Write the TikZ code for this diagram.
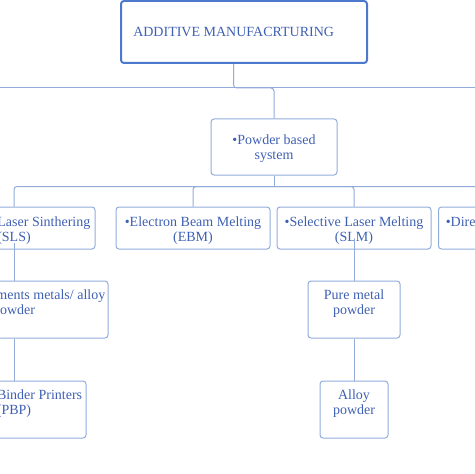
\documentclass[tikz,border=0pt]{standalone}
\usepackage{fontspec}
\setmainfont{Liberation Serif}
\usetikzlibrary{positioning}
\usetikzlibrary{calc}
\definecolor{textblue}{RGB}{62,96,178}
\definecolor{lineblue}{RGB}{146,172,218}
\definecolor{topblue}{RGB}{76,120,205}
\newdimen\px
\px=0.75pt

\begin{document}
\begin{tikzpicture}
		[
			x = 1\px, y = -1\px,
			every node/.style = {font = \fontsize{10.5}{11.25}\selectfont, text = textblue},
			topbox/.style = {rectangle, rounded corners = 3\px, draw = topblue, line width = 2\px, minimum width = 246\px, minimum height = 62\px},
			systembox/.style = {rectangle, rounded corners = 3\px, draw = lineblue, line width = 1\px, minimum width = 126\px, minimum height = 56\px},
			methodbox/.style = {rectangle, rounded corners = 3\px, draw = lineblue, line width = 1\px, minimum height = 42\px},
			subbox/.style = {rectangle, rounded corners = 3\px, draw = lineblue, line width = 1\px, minimum height = 57\px},
			boxtext/.style = {align = center, inner sep = 0cm},
			link/.style = {draw = lineblue, line width = 1\px},
		]
			\useasboundingbox (0,0) rectangle (474,474);
			%
			\node (am) [topbox] at (244,32) {};
			\node (amtext) [anchor = west, inner sep = 0cm] at (133,32) {ADDITIVE MANUFACRTURING};
			%
			\node (powder) [systembox] at (274,147) {};
			\node (powdertext) [boxtext, below = 16\px of powder.north] {•Powder based\\system};
			%
			\node (sls) [methodbox, minimum width = 162\px] at (14,228) {};
			\node (slstext) [boxtext, below = 10\px of sls.north] {•Selective Laser Sinthering\\(SLS)};
			\node (ebm) [methodbox, minimum width = 154\px] at (193,228) {};
			\node (ebmtext) [boxtext, below = 10\px of ebm.north] {•Electron Beam Melting\\(EBM)};
			\node (slm) [methodbox, minimum width = 154\px] at (354,228) {};
			\node (slmtext) [boxtext, below = 10\px of slm.north] {•Selective Laser Melting\\(SLM)};
			\node (dmls) [methodbox, minimum width = 180\px, anchor = west] at (438,228) {};
			\node (dmlstext) [boxtext, below = 10\px of dmls.north] {•Direct Metal Laser Sintering\\(DMLS)};
			%
			\node (elements) [subbox, minimum width = 188\px, below = 31\px of sls] {};
			\node (elementstext) [boxtext, below = 9\px of elements.north] {•Blended Elements metals/ alloy\\powder};
			\node (pbp) [subbox, minimum width = 144\px, below = 42\px of elements] {};
			\node (pbptext) [boxtext, below = 9\px of pbp.north] {•Powder Binder Printers\\(PBP)};
			\node (pure) [subbox, minimum width = 92\px, below = 31\px of slm] {};
			\node (puretext) [boxtext, below = 9\px of pure.north] {Pure metal\\powder};
			\node (alloy) [subbox, minimum width = 68\px, below = 42\px of pure] {};
			\node (alloytext) [boxtext, below = 9\px of alloy.north] {Alloy\\powder};
			%
			\coordinate (busleft) at (-10,88);
			\coordinate (busright) at (484,88);
			\coordinate (fork) at ($(powder.south)+(0,11)$);
			%
			\draw [link] (busleft) -- (busright);
			\draw [link, rounded corners = 3\px] (amtext.south |- am.south) -- (amtext.south |- busleft) -| (powder.north);
			\draw [link] (powder.south) -- (fork);
			\foreach \method in {sls, ebm, slm, dmls}
				\draw [link, rounded corners = 3\px] (fork) -| (\method.north);
			\draw [link] ($(sls.south)+(0,-7)$) -- (elements.north);
			\draw [link] (elements.south) -- (pbp.north);
			\draw [link] ($(slm.south)+(0,-11)$) -- (pure.north);
			\draw [link] (pure.south) -- (alloy.north);
			%
		\end{tikzpicture}
\end{document}
